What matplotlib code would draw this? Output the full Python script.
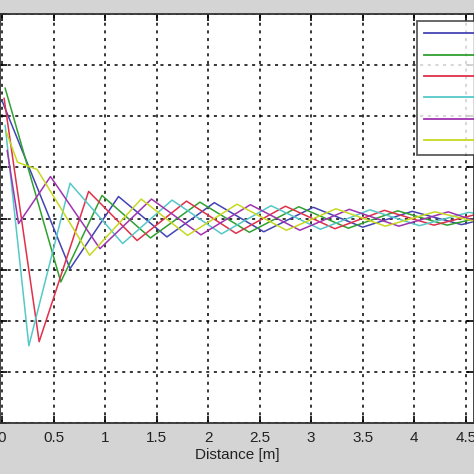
import matplotlib
matplotlib.use("Agg")
import matplotlib.pyplot as plt
from matplotlib.lines import Line2D

blue_x = [0, 0.66, 1.13, 1.6, 2.06, 2.54, 3.02, 3.5, 3.98, 4.46, 4.6]
blue_y = [2.3, -0.98, 0.43, -0.36, 0.31, -0.26, 0.22, -0.17, 0.14, -0.12, -0.05]
green_x = [0.03, 0.57, 0.97, 1.44, 1.92, 2.4, 2.88, 3.36, 3.84, 4.32, 4.6]
green_y = [2.55, -1.24, 0.45, -0.38, 0.32, -0.27, 0.23, -0.19, 0.15, -0.13, 0.0]
red_x = [0.02, 0.36, 0.84, 1.31, 1.79, 2.27, 2.75, 3.23, 3.71, 4.19, 4.6]
red_y = [2.35, -2.41, 0.53, -0.43, 0.34, -0.29, 0.24, -0.2, 0.16, -0.13, 0.08]
cyan_x = [0.03, 0.26, 0.66, 1.17, 1.65, 2.13, 2.61, 3.09, 3.57, 4.05, 4.53, 4.6]
cyan_y = [1.82, -2.49, 0.69, -0.49, 0.36, -0.3, 0.25, -0.21, 0.17, -0.14, 0.12, 0.1]
mag_x = [0.05, 0.16, 0.47, 0.95, 1.45, 1.93, 2.41, 2.89, 3.37, 3.85, 4.33, 4.6]
mag_y = [1.33, -0.1, 0.82, -0.59, 0.38, -0.32, 0.27, -0.23, 0.18, -0.15, 0.13, -0.05]
yel_x = [0.04, 0.15, 0.34, 0.85, 1.35, 1.8, 2.28, 2.76, 3.24, 3.72, 4.2, 4.6]
yel_y = [1.7, 1.1, 0.96, -0.72, 0.38, -0.33, 0.28, -0.23, 0.19, -0.15, 0.13, -0.06]

x_ticks = [0, 0.5, 1, 1.5, 2, 2.5, 3, 3.5, 4, 4.5]
x_tick_labels = ["0", "0.5", "1", "1.5", "2", "2.5", "3", "3.5", "4", "4.5"]

series = [(blue_x, blue_y, "#4444b4"), (green_x, green_y, "#30a030"),
          (red_x, red_y, "#e0304a"), (cyan_x, cyan_y, "#55c8c8"),
          (mag_x, mag_y, "#a033b0"), (yel_x, yel_y, "#c8d820")]

plt.rcParams['font.family'] = ['Liberation Sans', 'DejaVu Sans']
fig = plt.figure(figsize=(4.74, 4.74), dpi=100, facecolor="#d4d4d4")
ax = fig.add_axes([0, 1 - 423/474, 1, (423 - 14)/474])
for xs, ys, c in series:
    ax.plot(xs, ys, color=c, lw=1.1)
ax.set_xlim(-0.02, 4.58)
ax.set_ylim(-4, 4)
ax.set_xticks(x_ticks)
ax.set_xticklabels(x_tick_labels, fontsize=11, color="#222222")
ax.set_yticks(range(-4, 5))
ax.set_yticklabels([])
ax.tick_params(direction="in", top=True, right=True, length=5, width=1.2, pad=6)
ax.grid(True, color="black", linestyle=(0, (2, 3)), lw=1.1)
for s in ax.spines.values():
    s.set_linewidth(1.3)
    s.set_color("#333333")
ax.set_xlabel("Distance [m]", fontsize=11, color="#222222", labelpad=2)

handles = [Line2D([0], [0], color=c, lw=1.3) for _, _, c in series]
leg = fig.legend(handles, [" "] * 6, loc="upper left",
                 bbox_to_anchor=(417/474, 1 - 21/474), frameon=True,
                 fancybox=False, edgecolor="#333333", handlelength=4.5,
                 labelspacing=0.5, borderpad=0.45, borderaxespad=0,
                 handletextpad=0.6, fontsize=10.5)
leg.get_frame().set_linewidth(1.3)
fig.savefig("out.png", dpi=100, facecolor=fig.get_facecolor())
